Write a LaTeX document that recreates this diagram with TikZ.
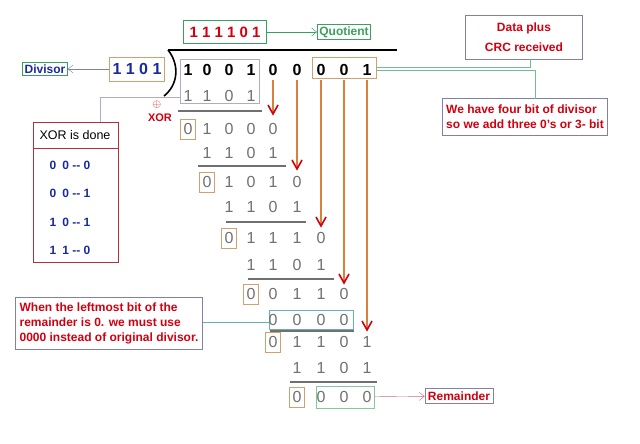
\documentclass[tikz,border=0pt]{standalone}
\usepackage{fontspec}
\setmainfont{Liberation Sans}
\usetikzlibrary{arrows.meta}
\definecolor{dg}{HTML}{707070}
\definecolor{tan}{HTML}{D0A070}
\definecolor{org}{HTML}{D9803A}
\definecolor{rd}{HTML}{D00010}
\definecolor{bl}{HTML}{1A2A9A}
\definecolor{gr}{HTML}{3AA060}
\definecolor{pu}{HTML}{B8A8C8}
\definecolor{lbl}{HTML}{8080A8}
\definecolor{xr}{HTML}{B03040}
\begin{document}
\begin{tikzpicture}[x=1pt,y=-1pt,
  dig/.style={font=\fontsize{16}{18}\selectfont,text=dg,inner sep=0pt},
  bdig/.style={font=\fontsize{16}{18}\selectfont\bfseries,inner sep=0pt},
  lead/.style={draw=tan,line width=0.8pt,minimum width=15pt,minimum height=20pt,inner sep=0pt},
  note/.style={draw=lbl,line width=0.8pt,font=\fontsize{12}{15}\selectfont\bfseries,text=rd,align=left},
  rule/.style={draw=dg,line width=2pt},
  down/.style={draw=org,line width=2pt},
  vtip/.style={draw=rd,line width=1.6pt}]
\useasboundingbox (0,0) rectangle (640,444);
\def\cx#1{\ifcase#1 188\or 207\or 229\or 251\or 273\or 297\or 321\or 344\or 367\fi}
% dividend
\foreach \d [count=\i from 0] in {1,0,0,1,0,0,0,0,1}
  \node[bdig] (d\i) at (\cx{\i},70) {\d};
\foreach \d [count=\i from 0] in {1,1,0,1}
  \node[dig] (s0\i) at (\cx{\i},96) {\d};
\draw[pu,line width=0.8pt] (180,59) rectangle (259,103);
\draw[tan,line width=0.8pt] (312,57) rectangle (376,78);
% division bracket
\draw[line width=1.6pt] (168,50) -- (397,50);
\draw[line width=1.6pt] (168,50) .. controls (180,65) and (178,85) .. (164,96);
% quotient
\node[draw=gr,line width=0.8pt,minimum width=83pt,minimum height=23pt,font=\fontsize{15}{18}\selectfont\bfseries,text=rd] (quot) at (225,32) {1 1 1 1 0 1};
\node[draw=gr,line width=0.8pt,font=\fontsize{12}{14}\selectfont\bfseries,text=gr,inner sep=2pt] (qlab) at (344,32) {Quotient};
\draw[gr,-{Straight Barb[length=5pt,width=8pt]}] (quot) -- (qlab);
% divisor
\node[draw=tan,line width=0.8pt,minimum width=54pt,minimum height=24pt,font=\fontsize{16}{18}\selectfont\bfseries,text=bl] (dv) at (137,69) {1 1 0 1};
\node[draw=gr,line width=0.8pt,font=\fontsize{12}{14}\selectfont\bfseries,text=bl,inner sep=2pt] (dlab) at (45,69) {Divisor};
\draw[lbl,-{Straight Barb[length=5pt,width=8pt]}] (dv) -- (dlab);
% XOR table
\node[draw=xr,line width=0.8pt,minimum width=85pt,minimum height=140pt] (xt) at (75.5,192) {};
\draw[xr,line width=0.8pt] (33,148) -- (118,148);
\node[font=\fontsize{12.5}{14}\selectfont] (xh) at (75,135) {XOR is done};
\foreach \t [count=\k from 0] in {0\enspace0 -{}- 0,0\enspace0 -{}- 1,1\enspace0 -{}- 1,1\enspace1 -{}- 0}
  \node[font=\fontsize{12}{14}\selectfont\bfseries,text=bl] (xe\k) at (70,165+28.5*\k) {\t};
\draw[pu,line width=0.8pt] (180,97) -- (100,97) -- (100,122);
\node[text=rd,font=\fontsize{11}{12}\selectfont,inner sep=0pt] (oplus) at (157,105) {$\oplus$};
\node[text=rd,font=\fontsize{11}{12}\selectfont\bfseries,inner sep=0pt] (xorl) at (160,118) {XOR};
% rows
\newcommand\drow[3]{%
  \foreach \d [count=\i from 0] in {#3} {
    \pgfmathtruncatemacro\cc{#2+\i}
    \node[dig] at (\cx{\cc},#1) {\d};}}
\draw[rule] (178,111) -- (262,111);
\node[lead] (l1) at (188,129) {};
\drow{129}{0}{0,1,0,0,0}
\drow{153}{1}{1,1,0,1}
\draw[rule] (198,166) -- (286,166);
\node[lead] (l2) at (207,182) {};
\drow{182}{1}{0,1,0,1,0}
\drow{207}{2}{1,1,0,1}
\draw[rule] (226,222) -- (306,222);
\node[lead] (l3) at (229,238) {};
\drow{238}{2}{0,1,1,1,0}
\drow{265}{3}{1,1,0,1}
\draw[rule] (248,279) -- (334,279);
\node[lead] (l4) at (251,294) {};
\drow{294}{3}{0,0,1,1,0}
\node[draw=teal!60,line width=0.8pt,minimum width=84pt,minimum height=19pt] (z4) at (311,320) {};
\drow{320}{4}{0,0,0,0}
\draw[rule] (270,331) -- (354,331);
\node[lead] (l5) at (273,342) {};
\drow{342}{4}{0,1,1,0,1}
\drow{368}{5}{1,1,0,1}
\draw[rule] (290,382) -- (377,382);
\node[lead] (l6) at (297,397) {};
\node[dig] at (\cx{5},397) {0};
\node[draw=gr!60,line width=0.8pt,minimum width=58pt,minimum height=22pt] (rem) at (345,397) {};
\drow{397}{6}{0,0,0}
\node[draw=lbl,line width=0.8pt,font=\fontsize{12}{14}\selectfont\bfseries,text=rd,inner sep=3pt] (rlab) at (459,396) {Remainder};
\draw[xr!70,-{Straight Barb[length=5pt,width=8pt]}] (rem) -- (rlab);
% orange down arrows
\foreach \c/\y in {4/114,5/169,6/226,7/283,8/330}{
  \draw[down] (\cx{\c},80) -- (\cx{\c},\y);
  \draw[vtip] (\cx{\c}-5,\y-9) -- (\cx{\c},\y) -- (\cx{\c}+5,\y-9);}
% right notes
\node[note,align=center,minimum width=117pt,minimum height=44pt,font=\fontsize{12}{20}\selectfont\bfseries] (crc) at (524,37) {Data plus\\CRC received};
\node[note,minimum width=164pt,minimum height=37pt,inner sep=4pt] (four) at (525,117) {We have four bit of divisor\\so we add three 0's or 3- bit};
\draw[gr!70,line width=0.8pt] (376,67) -- (530,67) -- (crc.south -| 530,0);
\draw[gr!70,line width=0.8pt] (376,70) -- (535,70) -- (535,98.5);
% left note
\node[note,minimum width=186pt,minimum height=52pt,inner sep=4pt] (zero) at (109,323) {When the leftmost bit of the\\remainder is 0. we must use\\0000 instead of original divisor.};
\draw[teal!60,line width=0.8pt] (zero.east |- 0,322) -- (z4.west |- 0,322);
\end{tikzpicture}
\end{document}
